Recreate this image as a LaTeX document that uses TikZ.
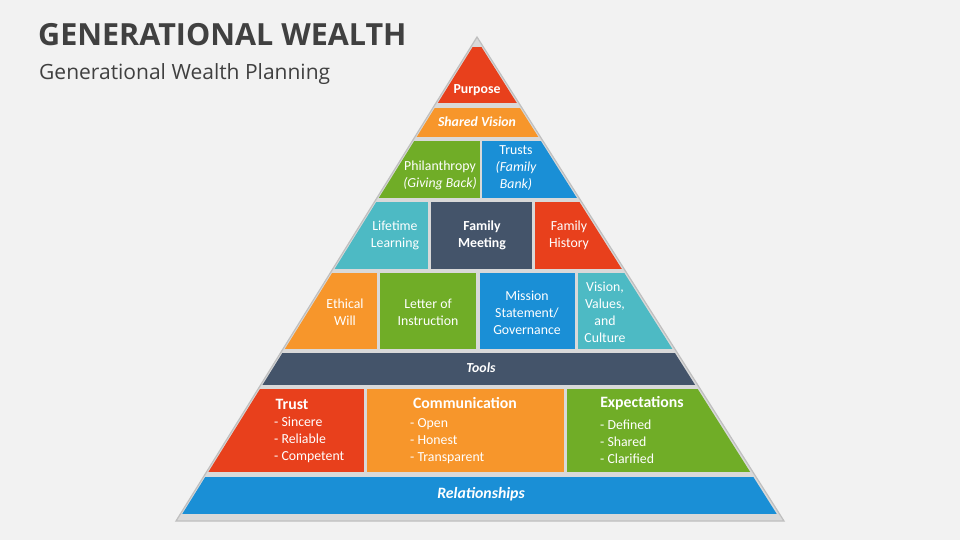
\documentclass[tikz,border=0pt]{standalone}
\usepackage{fontspec}
\setmainfont{Carlito}
\newfontfamily\titlefont{Open Sans}
\definecolor{bg}{HTML}{F2F2F2}
\definecolor{pgray}{HTML}{D9D9D9}
\definecolor{pedge}{HTML}{BFBFBF}
\definecolor{cred}{HTML}{E8401C}
\definecolor{corange}{HTML}{F7962B}
\definecolor{cgreen}{HTML}{70AD27}
\definecolor{cblue}{HTML}{1A8FD6}
\definecolor{cteal}{HTML}{4DBAC4}
\definecolor{cslate}{HTML}{44546A}
\definecolor{ctitle}{HTML}{404040}
\tikzset{
  lbl/.style={text=white, align=center, inner sep=0pt, font=\fontsize{13.8}{17}\selectfont},
  lblb/.style={lbl, font=\fontsize{13.8}{17}\selectfont\bfseries},
  lblbi/.style={lbl, font=\fontsize{13.8}{17}\selectfont\bfseries\itshape},
  head/.style={lbl, font=\fontsize{15.8}{17}\selectfont\bfseries},
  item/.style={lbl, align=left, anchor=west, font=\fontsize{13.8}{17}\selectfont},
}
\begin{document}
\begin{tikzpicture}[x=1pt,y=-1pt]
\fill[bg] (0,0) rectangle (960,540);
\useasboundingbox (0,0) rectangle (960,540);
\node[anchor=west, inner sep=0pt, text=ctitle, font=\titlefont\fontsize{30.5}{34}\selectfont\bfseries] (title) at (38,35) {GENERATIONAL WEALTH};
\node[anchor=west, inner sep=0pt, text=ctitle, font=\titlefont\fontsize{21}{24}\selectfont] (sub) at (39,74) {Generational Wealth Planning};
\filldraw[fill=pgray, draw=pedge, line width=1.2pt] (477,37) -- (176,521) -- (784,521) -- cycle;
\begin{scope}
\clip (477,40) -- (181,516) -- (778,516) -- cycle;
\fill[cred] (300,47) rectangle (650,103);
\fill[corange] (300,108) rectangle (650,137);
\fill[cgreen] (300,141) rectangle (480,198);
\fill[cblue] (482,141) rectangle (650,198);
\fill[cteal] (250,202) rectangle (428,269);
\fill[cslate] (431,202) rectangle (532,269);
\fill[cred] (535,202) rectangle (700,269);
\fill[corange] (250,273) rectangle (377,349);
\fill[cgreen] (380,273) rectangle (476,349);
\fill[cblue] (480,273) rectangle (575,349);
\fill[cteal] (578,273) rectangle (750,349);
\fill[cslate] (150,353) rectangle (800,385);
\fill[cred] (150,389) rectangle (364,472);
\fill[corange] (367,389) rectangle (564,472);
\fill[cgreen] (567,389) rectangle (800,472);
\fill[cblue] (150,477) rectangle (800,514);
\end{scope}
\node[lblb] (purpose) at (477,90) {Purpose};
\node[lblbi] (vision) at (477,122) {Shared Vision};
\node[lbl] (phil) at (440,175.5) {Philanthropy\\\itshape(Giving Back)};
\node[lbl] (trusts) at (516,168.5) {Trusts\\\itshape(Family\\\itshape Bank)};
\node[lbl] (life) at (395,235.5) {Lifetime\\Learning};
\node[lblb] (meet) at (482,235.5) {Family\\Meeting};
\node[lbl] (hist) at (569,235.5) {Family\\History};
\node[lbl] (ethical) at (345,312) {Ethical\\Will};
\node[lbl] (letter) at (428,312) {Letter of\\Instruction};
\node[lbl] (mission) at (527,313) {Mission\\Statement/\\Governance};
\node[lbl] (values) at (605,312.5) {Vision,\\Values,\\and\\Culture};
\node[lblbi] (tools) at (481,368) {Tools};
\node[head] (trust) at (292,404) {Trust};
\node[item] (trusti) at (274,440) {- Sincere\\- Reliable\\- Competent};
\node[head] (comm) at (465,403) {Communication};
\node[item] (commi) at (410,441) {- Open\\- Honest\\- Transparent};
\node[head] (exp) at (642,403) {Expectations};
\node[item] (expi) at (600,442) {- Defined\\- Shared\\- Clarified};
\node[lblbi, font=\fontsize{15.8}{17}\selectfont\bfseries\itshape] (rel) at (481,494) {Relationships};
\end{tikzpicture}
\end{document}
